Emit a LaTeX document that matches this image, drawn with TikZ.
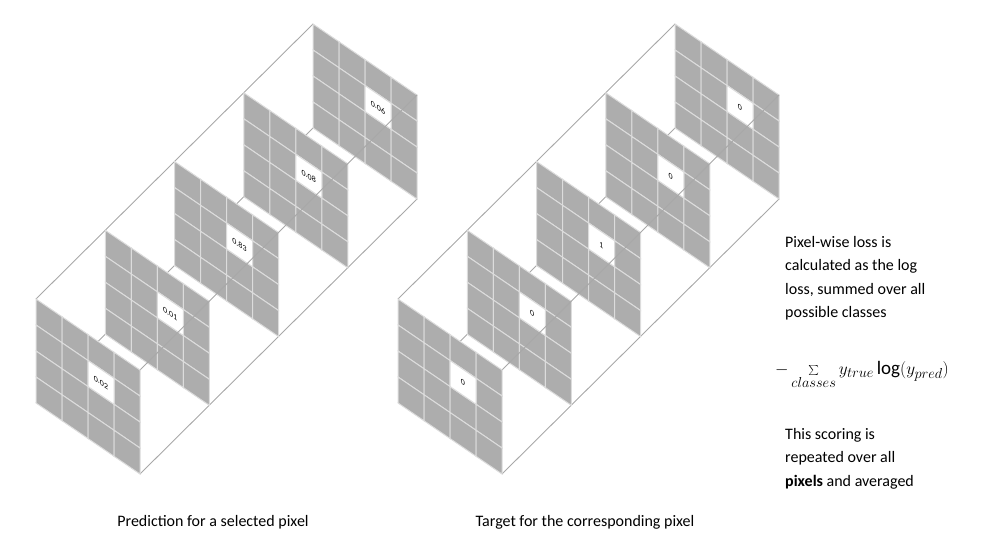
\documentclass[tikz,border=0pt]{standalone}
\usepackage{fontspec}
\setmainfont{Carlito}
\begin{document}
\begin{tikzpicture}[x=1pt,y=-1pt,
  cellf/.style={fill=cellgray,draw=celledge,line width=1pt},
  hl/.style={fill=white,draw=celledge,line width=1pt},
  boxline/.style={draw=boxgray,line width=0.9pt},
  val/.style={font=\fontsize{8}{9}\selectfont,inner sep=0pt,cm={1,-0.683,0,1,(0,0)}},
  txt/.style={font=\fontsize{16}{23.5}\selectfont,align=left,anchor=north west,inner sep=0pt}]
\definecolor{cellgray}{HTML}{ADADAD}
\definecolor{celledge}{HTML}{DCDCDC}
\definecolor{boxgray}{HTML}{A8A8A8}
\useasboundingbox (0,0) rectangle (984,553);
\newcommand{\gridat}[3]{% x0 y0 value
  \foreach \c in {0,...,3}{\foreach \r in {0,...,3}{
    \path[cellf] (#1+26*\c,#2+26*\r+17.75*\c) -- ++(26,17.75) -- ++(0,26) -- ++(-26,-17.75) -- cycle;}}
  \path[hl] (#1+52,#2+26+35.5) -- ++(26,17.75) -- ++(0,26) -- ++(-26,-17.75) -- cycle;
  \node[val] at (#1+65,#2+26+35.5+8.9+13) {#3};}
\newcommand{\stackat}[6]{% x0 and five values
  \coordinate (tl1) at (#1,299); \coordinate (tl5) at (#1+277,24);
  \coordinate (tr1) at (#1+104,370); \coordinate (tr5) at (#1+381,95);
  \coordinate (br1) at (#1+104,474); \coordinate (br5) at (#1+381,199);
  \coordinate (bl1) at (#1,403); \coordinate (bl5) at (#1+277,128);
  \draw[boxline] (tl1) -- (tl5);
  \draw[boxline] (br1) -- (br5);
  \draw[boxline] (bl1) -- (bl5);
  \gridat{#1+277}{24}{#6}
  \gridat{#1+207.75}{92.75}{#5}
  \gridat{#1+138.5}{161.5}{#4}
  \gridat{#1+69.25}{230.25}{#3}
  \draw[boxline] (tr1) -- (tr5);
  \gridat{#1}{299}{#2}
}
\stackat{36}{0.02}{0.01}{0.83}{0.08}{0.06}
\stackat{398}{0}{0}{1}{0}{0}
\node[font=\fontsize{16}{19}\selectfont] (cap1) at (213,522) {Prediction for a selected pixel};
\node[font=\fontsize{16}{19}\selectfont] (cap2) at (585,522) {Target for the corresponding pixel};
\node[txt] (t1) at (785,236) {Pixel-wise loss is\\calculated as the log\\loss, summed over all\\possible classes};
\node[font=\fontsize{19}{22}\selectfont] (f) at (862,375) {$-\sum\limits_{\scriptstyle classes} y_{true}\log\bigl(y_{pred}\bigr)$};
\node[txt] (t2) at (785,428) {This scoring is\\repeated over all\\\textbf{pixels} and averaged};
\end{tikzpicture}
\end{document}
